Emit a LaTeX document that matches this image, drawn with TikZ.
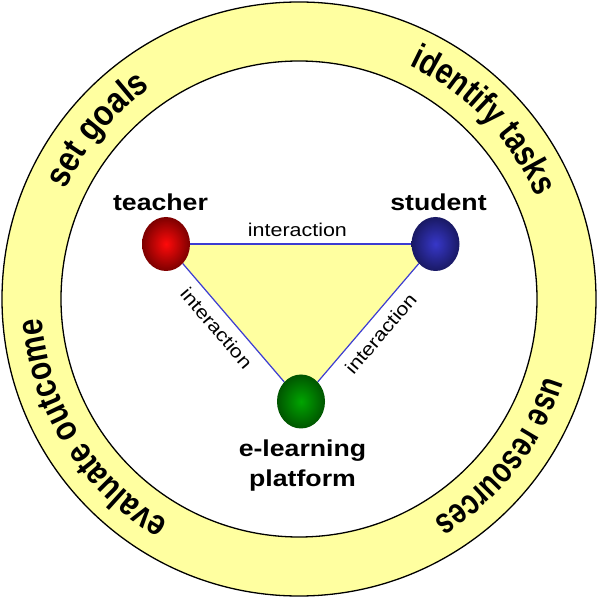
\documentclass[tikz,border=0pt]{standalone}
\usepackage{fontspec}
\setmainfont{Liberation Sans}
\newfontfamily\lblfont[FakeStretch=1.16]{Liberation Sans}
\newfontfamily\ringA[FakeStretch=0.86]{Liberation Sans}
\newfontfamily\ringB[FakeStretch=0.81]{Liberation Sans}
\newfontfamily\ringC[FakeStretch=0.76]{Liberation Sans}
\newfontfamily\ringD[FakeStretch=0.82]{Liberation Sans}
\usetikzlibrary{shapes.geometric,decorations.text,backgrounds}
\definecolor{ringyellow}{RGB}{255,255,160}
\definecolor{edgeblue}{RGB}{60,60,210}
\definecolor{redin}{RGB}{255,10,10}
\definecolor{redout}{RGB}{125,0,0}
\definecolor{bluein}{RGB}{55,55,200}
\definecolor{blueout}{RGB}{25,25,100}
\definecolor{greenin}{RGB}{0,165,0}
\definecolor{greenout}{RGB}{0,85,0}
\newcommand\ringsize{\fontsize{36}{38}\selectfont\bfseries}
\begin{document}
\begin{tikzpicture}[x=1pt,y=1pt,
  ball/.style={ellipse, minimum width=48pt, minimum height=54pt, inner sep=0pt},
  bigtext/.style={font=\lblfont\fontsize{23}{30}\selectfont\bfseries, inner sep=0pt, align=center},
  smalltext/.style={font=\lblfont\fontsize{18.5}{20}\selectfont, inner sep=0pt},
  edge/.style={draw=edgeblue, line width=1.2pt},
  ringline/.style={draw=black, line width=1.3pt},
  ringtext/.style 2 args={decorate, decoration={text along path, text align=center, text={|#1\ringsize|#2}}}]
\useasboundingbox (0,0) rectangle (598,598);
% balls
\node[ball, inner color=redin, outer color=redout] (teacher) at (166,354) {};
\node[ball, inner color=bluein, outer color=blueout] (student) at (435.5,354) {};
\node[ball, inner color=greenin, outer color=greenout] (platform) at (301,196.5) {};
% labels
\node[bigtext] (tlabel) at (160.5,396) {teacher};
\node[bigtext] (slabel) at (438.5,396) {student};
\node[bigtext, anchor=north] (plabel) at (302.5,158) {e-learning\\platform};
% background
\begin{scope}[on background layer]
  \fill[ringyellow, even odd rule] (299,299) circle[radius=297pt] (299,299) circle[radius=238pt];
  \draw[ringline] (299,299) circle[radius=297pt];
  \draw[ringline] (299,299) circle[radius=238pt];
  \fill[ringyellow] (teacher.center) -- (student.center) -- (platform.center) -- cycle;
\end{scope}
% edges
\draw[edge] (teacher) -- node[smalltext, above=7pt, pos=0.485] (i1) {interaction} (student);
\draw[edge] (teacher) -- node[smalltext, sloped, below=9pt, pos=0.456] (i2) {interaction} (platform);
\draw[edge] (platform) -- node[smalltext, sloped, below=9pt, pos=0.5] (i3) {interaction} (student);
% ring texts
\path[ringtext={\ringA}{set goals}] (299,299) ++(190:258pt) arc[start angle=190, end angle=90, radius=258pt];
\path[ringtext={\ringB}{identify tasks}] (299,299) ++(94:258pt) arc[start angle=94, end angle=-6, radius=258pt];
\path[ringtext={\ringC}{use resources}] (299,299) ++(12:258pt) arc[start angle=12, end angle=-88, radius=258pt];
\path[ringtext={\ringD}{evaluate outcome}] (299,299) ++(262:258pt) arc[start angle=262, end angle=162, radius=258pt];
\end{tikzpicture}
\end{document}
